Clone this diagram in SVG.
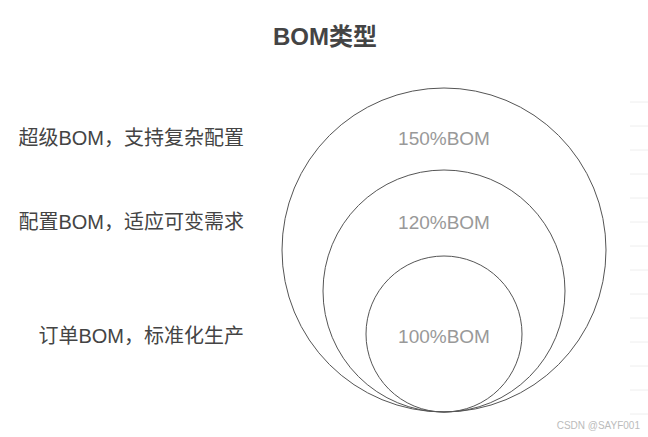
<svg xmlns="http://www.w3.org/2000/svg" width="648" height="437" viewBox="0 0 648 437">
<style>
.c{fill:none;stroke:#555;stroke-width:1}
.in{font-family:"Liberation Sans","Noto Sans CJK SC",sans-serif;font-size:19px;fill:#999;text-anchor:middle}
.lb{font-family:"Liberation Sans","Noto Sans CJK SC",sans-serif;font-size:20px;fill:#444;text-anchor:end}
.g{stroke:#eee;stroke-width:1}
</style>
<rect width="648" height="437" fill="#fff"/>
<g class="g">
<line x1="630" y1="102" x2="648" y2="102"/><line x1="630" y1="126" x2="648" y2="126"/><line x1="630" y1="150" x2="648" y2="150"/><line x1="630" y1="174" x2="648" y2="174"/><line x1="630" y1="198" x2="648" y2="198"/><line x1="630" y1="222" x2="648" y2="222"/><line x1="630" y1="246" x2="648" y2="246"/><line x1="630" y1="270" x2="648" y2="270"/><line x1="630" y1="294" x2="648" y2="294"/><line x1="630" y1="318" x2="648" y2="318"/><line x1="630" y1="342" x2="648" y2="342"/><line x1="630" y1="366" x2="648" y2="366"/><line x1="630" y1="390" x2="648" y2="390"/><line x1="630" y1="414" x2="648" y2="414"/>
</g>
<text x="325" y="45" font-family="'Liberation Sans','Noto Sans CJK SC',sans-serif" font-size="24" font-weight="bold" fill="#444" text-anchor="middle">BOM类型</text>
<g id="n150"><circle class="c" cx="444" cy="250" r="162"/><text class="in" x="444" y="145">150%BOM</text></g>
<g id="n120"><circle class="c" cx="444" cy="291" r="121"/><text class="in" x="444" y="229">120%BOM</text></g>
<g id="n100"><circle class="c" cx="444" cy="334" r="78"/><text class="in" x="444" y="343">100%BOM</text></g>
<g id="labels">
<text class="lb" x="244" y="145">超级BOM，支持复杂配置</text>
<text class="lb" x="244" y="229">配置BOM，适应可变需求</text>
<text class="lb" x="244" y="343">订单BOM，标准化生产</text>
</g>
<text x="640" y="429" font-family="'Liberation Sans',sans-serif" font-size="10" fill="#bbb" text-anchor="end">CSDN @SAYF001</text>
</svg>
